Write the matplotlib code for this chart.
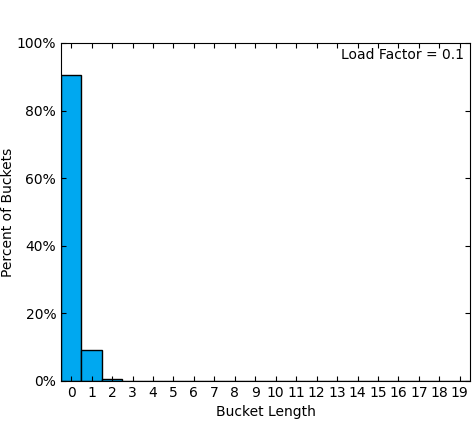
import matplotlib
matplotlib.use("Agg")
import matplotlib.pyplot as plt
from matplotlib.ticker import FuncFormatter

buckets = list(range(20))
percents = [90.48, 9.05, 0.45, 0.015] + [0.0]*16

fig = plt.figure(figsize=(4.74, 4.24), dpi=100)
ax = fig.add_axes([61/474, 43/424, 409/474, 338/424])
ax.bar(buckets, percents, width=1.0, color="#00a8f0", edgecolor="black", linewidth=1)
ax.set_xlim(-0.5, 19.5)
ax.set_ylim(0, 100)
ax.set_xticks(buckets)
ax.set_yticks([0, 20, 40, 60, 80, 100])
ax.yaxis.set_major_formatter(FuncFormatter(lambda v, p: f"{int(v)}%"))
ax.tick_params(direction="in", top=True, right=True, labelsize=10)
ax.set_xlabel("Bucket Length", fontsize=10)
ax.set_ylabel("Percent of Buckets", fontsize=10, labelpad=1)
ax.text(0.985, 0.985, "Load Factor = 0.1", transform=ax.transAxes, ha="right", va="top", fontsize=10)
fig.savefig("out.png", dpi=100)
